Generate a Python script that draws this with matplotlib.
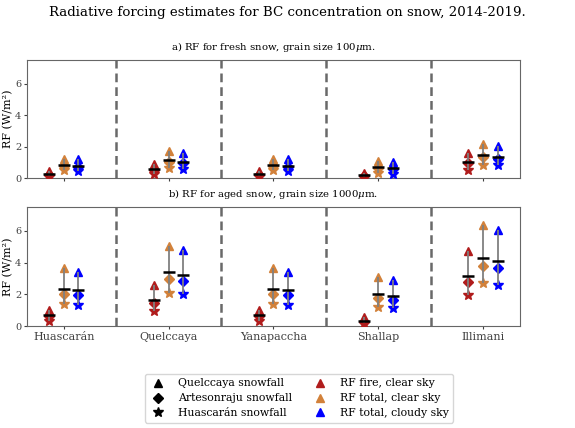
import numpy as np
import matplotlib
matplotlib.use("Agg")
import matplotlib.pyplot as plt
from matplotlib.lines import Line2D

plt.rcParams["font.family"] = ["DejaVu Serif"]
plt.rcParams["mathtext.fontset"] = "dejavuserif"

sites = ["Huascarán", "Quelccaya", "Yanapaccha", "Shallap", "Illimani"]
series = ["RF fire, clear sky", "RF total, clear sky", "RF total, cloudy sky"]
colors = ["#b01c1c", "#d2813a", "#0000ff"]

# values per snowfall source: [site][series]
# a) fresh snow, 100 um
fresh_quelccaya = [[0.43, 1.22, 1.18], [0.90, 1.69, 1.60], [0.43, 1.22, 1.18],
                   [0.32, 1.07, 1.00], [1.60, 2.14, 2.03]]
fresh_artesonraju = [[0.20, 0.75, 0.70], [0.49, 1.03, 0.94], [0.20, 0.75, 0.70],
                     [0.13, 0.62, 0.58], [0.96, 1.35, 1.24]]
fresh_huascaran = [[0.12, 0.50, 0.43], [0.28, 0.64, 0.58], [0.12, 0.50, 0.43],
                   [0.08, 0.32, 0.28], [0.54, 0.86, 0.81]]

# b) aged snow, 1000 um
aged_quelccaya = [[1.03, 3.64, 3.43], [2.57, 5.07, 4.80], [1.03, 3.64, 3.43],
                  [0.58, 3.10, 2.91], [4.75, 6.36, 6.06]]
aged_artesonraju = [[0.64, 2.03, 1.97], [1.43, 3.00, 2.85], [0.64, 2.03, 1.97],
                    [0.28, 1.76, 1.67], [2.78, 3.81, 3.64]]
aged_huascaran = [[0.35, 1.39, 1.35], [0.96, 2.10, 2.03], [0.35, 1.39, 1.35],
                  [0.17, 1.22, 1.16], [1.97, 2.74, 2.57]]

offsets = [-0.14, 0.0, 0.14]


def draw_panel(ax, q, a, h, title):
    q, a, h = np.array(q), np.array(a), np.array(h)
    x = np.arange(len(sites))
    for j in range(len(series)):
        xs = x + offsets[j]
        c = colors[j]
        ax.plot(xs, q[:, j], "^", color=c, ms=5.8, zorder=3)
        ax.plot(xs, a[:, j], "D", color=c, ms=4.8, zorder=3)
        ax.plot(xs, h[:, j], "*", color=c, ms=7.5, zorder=3)
        lo = np.minimum(np.minimum(q[:, j], a[:, j]), h[:, j])
        hi = np.maximum(np.maximum(q[:, j], a[:, j]), h[:, j])
        ax.vlines(xs, lo, hi, color="gray", lw=1.3, zorder=4)
        mean = (q[:, j] + a[:, j] + h[:, j]) / 3
        ax.plot(xs, mean, "_", color="black", ms=9, mew=1.8, zorder=5)
    for d in np.arange(0.5, len(sites) - 1, 1.0):
        ax.axvline(d, color="dimgray", ls="--", lw=1.8, dashes=(3.5, 2))
    ax.set_xlim(-0.35, len(sites) - 0.65)
    ax.set_ylim(0, 7.5)
    ax.set_yticks([0, 2, 4, 6])
    ax.set_xticks(x)
    ax.set_ylabel("RF (W/m²)", fontsize=8, labelpad=1.5)
    ax.set_title(title, fontsize=7.3, pad=7)
    ax.tick_params(labelsize=7.6, colors="0.25", length=2.5, pad=2)
    ax.tick_params(axis="y", labelsize=7, pad=1.5)
    for s in ax.spines.values():
        s.set_color("0.4")


fig = plt.figure(figsize=(5.75, 4.28), dpi=100)
ax1 = fig.add_axes([0.047, 0.584, 0.857, 0.276])
ax2 = fig.add_axes([0.047, 0.238, 0.857, 0.278])

draw_panel(ax1, fresh_quelccaya, fresh_artesonraju, fresh_huascaran,
           r"a) RF for fresh snow, grain size 100$\mu$m.")
draw_panel(ax2, aged_quelccaya, aged_artesonraju, aged_huascaran,
           r"b) RF for aged snow, grain size 1000$\mu$m.")
ax1.set_xticklabels([])
ax2.set_xticklabels(sites, fontsize=8)

fig.suptitle("Radiative forcing estimates for BC concentration on snow, 2014-2019.",
             fontsize=9.6, y=0.985)

handles = [
    Line2D([], [], ls="", marker="^", color="black", ms=5.5, label="Quelccaya snowfall"),
    Line2D([], [], ls="", marker="D", color="black", ms=5.5, label="Artesonraju snowfall"),
    Line2D([], [], ls="", marker="*", color="black", ms=7.5, label="Huascarán snowfall"),
]
for c, s in zip(colors, series):
    handles.append(Line2D([], [], ls="", marker="^", color=c, ms=5.5, label=s))
fig.legend(handles=handles, ncol=2, loc="lower center", bbox_to_anchor=(0.52, 0.0),
           fontsize=7.8, handlelength=1.6, handletextpad=1.0, columnspacing=1.8,
           labelspacing=0.45, borderpad=0.4)

fig.savefig("out.png", dpi=100)
